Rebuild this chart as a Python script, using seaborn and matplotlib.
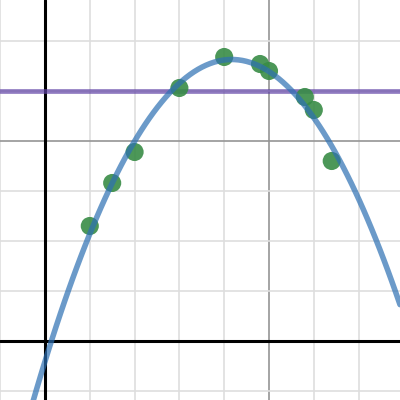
"""Quadratic regression through measured points, Desmos-style graph paper."""

import matplotlib

matplotlib.use("Agg")
import matplotlib.pyplot as plt
import numpy as np
import pandas as pd
import seaborn as sns


# measured points (x unit = one minor grid cell, y minor cell = 0.5)
x_values = [1.0, 1.5, 2.0, 3.0, 4.0, 4.8, 5.0, 5.8, 6.0, 6.4]
y_values = [1.15, 1.58, 1.89, 2.53, 2.84, 2.77, 2.70, 2.44, 2.31, 1.80]
threshold = [2.5]

x_minor = np.arange(-1, 8, 1)
x_major = [0, 5]
y_minor = np.arange(-0.5, 3.5, 0.5)
y_major = [0, 2]

COLORS = {
    "curve": "#2d70b3",
    "points": "#388c46",
    "threshold": "#6042a6",
    "minor": "#dedede",
    "major": "#959595",
}


def main() -> None:
    sns.set_theme(style="white")
    df = pd.DataFrame({"x": x_values, "y": y_values})

    fig = plt.figure(figsize=(4, 4), dpi=100)
    ax = fig.add_axes([0, 0, 1, 1])
    ax.set_xlim(-1.004, 7.924)
    ax.set_ylim(-0.59, 3.41)

    # graph paper
    ax.set_xticks(x_major)
    ax.set_xticks(x_minor, minor=True)
    ax.set_yticks(y_major)
    ax.set_yticks(y_minor, minor=True)
    ax.grid(which="minor", color=COLORS["minor"], linewidth=1.2, zorder=0)
    ax.grid(which="major", color=COLORS["major"], linewidth=1.2, zorder=0)
    ax.tick_params(which="both", length=0, labelbottom=False, labelleft=False)
    for spine in ax.spines.values():
        spine.set_visible(False)
    ax.axhline(0, color="black", linewidth=2.2, zorder=1)
    ax.axvline(0, color="black", linewidth=2.2, zorder=1)

    ax.axhline(threshold[0], color=COLORS["threshold"], linewidth=3.4,
               alpha=0.7, zorder=2)

    sns.scatterplot(data=df, x="x", y="y", ax=ax, s=170, color=COLORS["points"],
                    alpha=0.9, edgecolor="none", zorder=3)
    sns.regplot(data=df, x="x", y="y", ax=ax, order=2, ci=None, scatter=False,
                truncate=False,
                line_kws={"color": COLORS["curve"], "linewidth": 4,
                          "alpha": 0.7, "zorder": 4})

    ax.set_xlim(-1.004, 7.924)
    ax.set_ylim(-0.59, 3.41)
    ax.set_xlabel("")
    ax.set_ylabel("")
    fig.savefig("out.png", dpi=100)
    plt.close(fig)


if __name__ == "__main__":
    main()
